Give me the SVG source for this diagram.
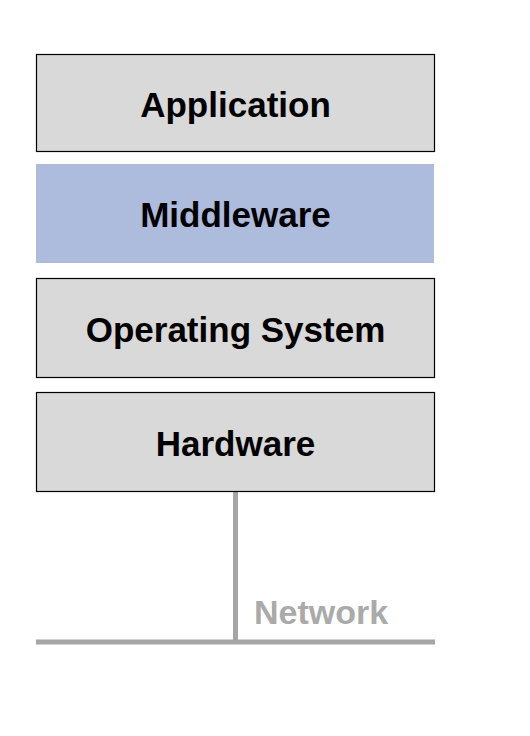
<svg xmlns="http://www.w3.org/2000/svg" width="530" height="736" viewBox="0 0 530 736">
<style>
.box{fill:#d9d9d9;stroke:#000;stroke-width:1.2}
.mid{fill:#adbcdd;stroke:none}
.lbl{font-family:"Liberation Sans",Arial,sans-serif;font-weight:bold;font-size:35px;fill:#000;text-anchor:middle}
.net{fill:none;stroke:#a6a6a6;stroke-width:5}
.netlbl{font-family:"Liberation Sans",Arial,sans-serif;font-weight:bold;font-size:34px;fill:#aaaaaa}
</style>
<rect width="530" height="736" fill="#fff"/>
<g id="connectors">
<line class="net" x1="235.5" y1="492" x2="235.5" y2="642"/>
<line class="net" x1="36" y1="642" x2="435" y2="642"/>
</g>
<g id="application">
<rect class="box" x="36.5" y="54.5" width="398" height="97"/>
<text class="lbl" x="235.5" y="116.5">Application</text>
</g>
<g id="middleware">
<rect class="mid" x="36" y="164" width="398" height="99"/>
<text class="lbl" x="235.5" y="227">Middleware</text>
</g>
<g id="operating-system">
<rect class="box" x="36.5" y="278.5" width="398" height="99"/>
<text class="lbl" x="235.5" y="341.5">Operating System</text>
</g>
<g id="hardware">
<rect class="box" x="36.5" y="392.5" width="398" height="99"/>
<text class="lbl" x="235.5" y="455.5">Hardware</text>
</g>
<g id="network">
<text class="netlbl" x="254" y="623.5">Network</text>
</g>
</svg>
